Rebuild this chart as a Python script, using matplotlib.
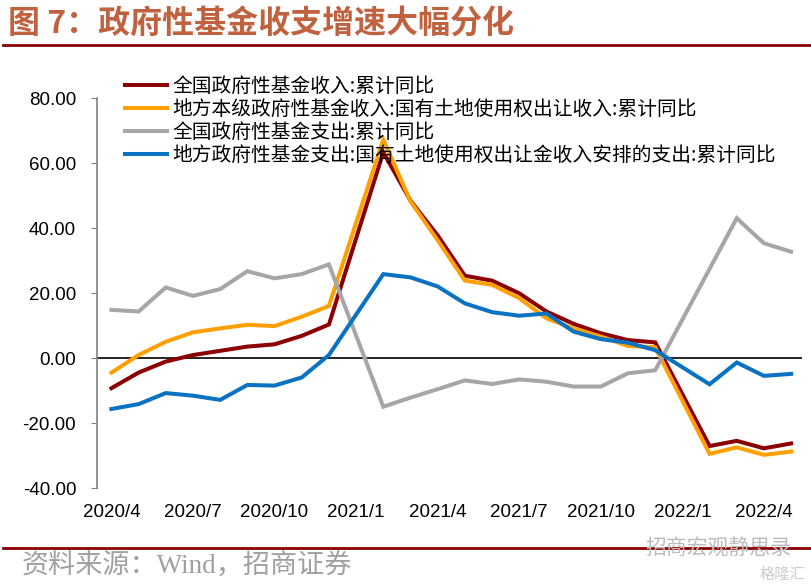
import numpy as np
import matplotlib
matplotlib.use("Agg")
import matplotlib.pyplot as plt
from matplotlib.lines import Line2D

plt.rcParams['font.family'] = ['Noto Sans CJK SC', 'DejaVu Sans']
plt.rcParams['axes.unicode_minus'] = False

# 月度数据（1月与2月合并，1月缺失）
months = ['2020/4', '2020/5', '2020/6', '2020/7', '2020/8', '2020/9', '2020/10', '2020/11', '2020/12',
          '2021/2', '2021/3', '2021/4', '2021/5', '2021/6', '2021/7', '2021/8', '2021/9', '2021/10',
          '2021/11', '2021/12', '2022/2', '2022/3', '2022/4', '2022/5']
rev_all = [-9.2, -4.4, -1.0, 1.0, 2.3, 3.6, 4.3, 6.9, 10.4,
           63.4, 48.5, 37.8, 25.4, 23.9, 20.0, 14.4, 10.6, 7.7, 5.6, 4.9,
           -27.0, -25.4, -27.7, -26.2]
rev_land = [-4.4, 1.0, 5.1, 8.0, 9.2, 10.3, 9.9, 12.8, 16.1,
            67.3, 48.3, 36.3, 23.9, 22.6, 18.5, 12.3, 9.2, 6.7, 3.8, 3.4,
            -29.4, -27.4, -29.7, -28.7]
exp_all = [14.9, 14.4, 21.8, 19.2, 21.3, 26.8, 24.6, 25.9, 28.9,
           -14.9, -12.1, -9.5, -6.8, -7.9, -6.5, -7.2, -8.7, -8.7, -4.6, -3.7,
           27.5, 43.1, 35.4, 32.8]
exp_land = [-15.6, -14.1, -10.7, -11.5, -12.8, -8.2, -8.4, -5.9, 1.0,
            25.9, 24.9, 22.1, 16.9, 14.2, 13.1, 13.8, 8.2, 5.9, 4.8, 2.5,
            -8.0, -1.3, -5.4, -4.8]

labels = ['全国政府性基金收入:累计同比',
          '地方本级政府性基金收入:国有土地使用权出让收入:累计同比',
          '全国政府性基金支出:累计同比',
          '地方政府性基金支出:国有土地使用权出让金收入安排的支出:累计同比']
colors = ['#8B0000', '#FFA000', '#A6A6A6', '#0A72C2']
tick_labels = ['2020/4', '2020/7', '2020/10', '2021/1', '2021/4', '2021/7', '2021/10', '2022/1', '2022/4']


def month_index(s):
    y, m = s.split('/')
    return (int(y) - 2020) * 12 + int(m) - 4


x = np.array([month_index(m) for m in months])
xt = [month_index(t) for t in tick_labels]

fig = plt.figure(figsize=(8.11, 5.87), dpi=100)
ax = fig.add_axes([97/811, 1-488.3/587, (802-97)/811, (488.3-98.3)/587])

for i, ys in enumerate([rev_all, rev_land, exp_all, exp_land]):
    ax.plot(x, ys, color=colors[i], lw=2.9, label=labels[i], zorder=3+i,
            solid_joinstyle='miter')

ax.axhline(0, color='black', lw=1.2, zorder=2)
ax.set_xlim(-0.53, 25.4)
ax.set_ylim(-40, 80)
ax.set_yticks(np.arange(-40, 81, 20))
ax.set_yticklabels(['%.2f' % v for v in np.arange(-40, 81, 20)], family='Liberation Sans', fontsize=13.5)
ax.set_xticks(xt)
ax.set_xticklabels(tick_labels, family='Liberation Sans', fontsize=13.5)
ax.tick_params(axis='x', length=0, pad=11)
ax.tick_params(axis='y', length=4, color='#808080', pad=11)
for s in ['top', 'right', 'bottom']:
    ax.spines[s].set_visible(False)
ax.spines['left'].set_color('#808080')
ax.spines['left'].set_linewidth(1.2)

ax.legend(loc='upper left', bbox_to_anchor=(125/811, 1-76/587), bbox_transform=fig.transFigure,
          frameon=False, fontsize=14.2, handlelength=2.15, handletextpad=0.25,
          labelspacing=0.1, borderpad=0, borderaxespad=0)

# 标题与页眉页脚
fig.text(8/811, 1-25/587, '图 7：政府性基金收支增速大幅分化', fontsize=23, fontweight='bold',
         color='#C0623F', va='center', ha='left')
fig.add_artist(Line2D([3/811, 1], [1-45/587, 1-45/587], color='#8B0000', lw=2))
fig.add_artist(Line2D([3/811, 1], [1-548/587, 1-548/587], color='#8B0000', lw=2))
fig.text(22/811, 1-567/587, '资料来源：Wind，招商证券', fontsize=19.5, color='#A0A0A0',
         family=['Liberation Serif', 'Noto Sans CJK SC'], va='center', ha='left')
fig.text(645/811, 1-549/587, '招商宏观静思录', fontsize=15, color='#BBBBBB', va='center', ha='left')
fig.text(805/811, 1-574/587, '格隆汇', fontsize=11, color='#CCCCCC', va='center', ha='right')

fig.savefig('out.png', dpi=100)
